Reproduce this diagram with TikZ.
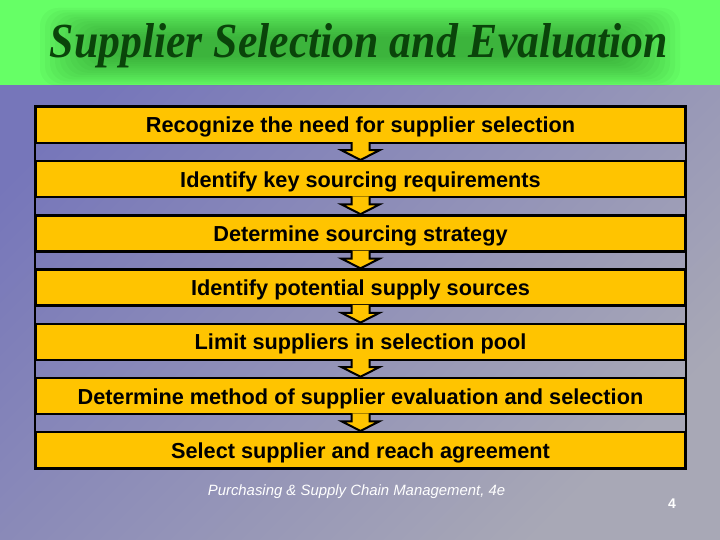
\documentclass[tikz,border=0pt]{standalone}
\usepackage{graphicx}
\usepackage{fontspec}
\setmainfont{Liberation Serif}
\newfontfamily\arialf{Liberation Sans}
\usetikzlibrary{calc}
\definecolor{bandgreen}{HTML}{66FF66}
\definecolor{glowgreen}{HTML}{1E7A1E}
\definecolor{titlegreen}{HTML}{0A440A}
\definecolor{bgpurple}{HTML}{7676BA}
\definecolor{bggray}{HTML}{A8A8B6}
\definecolor{boxyellow}{HTML}{FFC400}
\begin{document}
\begin{tikzpicture}[x=1pt,y=-1pt,
  stepbox/.style={draw=black, line width=2.5pt, fill=boxyellow, minimum width=649pt,
    minimum height=36pt, inner sep=0pt, text height=20pt, text depth=4pt,
    font=\arialf\bfseries\fontsize{21.7}{24}\selectfont},
  flowarrow/.style={draw=black, line width=2pt, fill=boxyellow, line join=miter},
  frameline/.style={draw=black, line width=2pt}]
\useasboundingbox (0,0) rectangle (720,540);
% background
\shade[top color=bgpurple, bottom color=bggray, shading angle=45] (0,0) rectangle (720,540);
\fill[bandgreen] (0,0) rectangle (720,85);
\foreach \i in {0,...,13}
  \fill[glowgreen, opacity=0.05, rounded corners=18pt] (40+5*\i,8+2.2*\i) rectangle (680-5*\i,86-2.2*\i);
% title
\node[text=titlegreen, inner sep=0pt, anchor=base] (title) at (359,58)
  {\resizebox{618pt}{34pt}{\bfseries\itshape Supplier Selection and Evaluation}};
% boxes
\node[stepbox] (b1) at (360.5,125.0) {Recognize the need for supplier selection};
\node[stepbox] (b2) at (360.5,179.2) {Identify key sourcing requirements};
\node[stepbox] (b3) at (360.5,233.4) {Determine sourcing strategy};
\node[stepbox] (b4) at (360.5,287.6) {Identify potential supply sources};
\node[stepbox] (b5) at (360.5,341.8) {Limit suppliers in selection pool};
\node[stepbox] (b6) at (360.5,396.0) {Determine method of supplier evaluation and selection};
\node[stepbox] (b7) at (360.5,450.2) {Select supplier and reach agreement};
\draw[frameline] (b1.north west) rectangle (b7.south east);
% arrows
\foreach \a/\b in {b1/b2,b2/b3,b3/b4,b4/b5,b5/b6,b6/b7}
  \filldraw[flowarrow] ($(\a.south)+(-9,-2)$) -- ($(\a.south)+(-9,6)$) -- ($(\a.south)+(-19,6)$)
    -- (\b.north) -- ($(\a.south)+(19,6)$) -- ($(\a.south)+(9,6)$) -- ($(\a.south)+(9,-2)$);
% footer
\node[font=\arialf\itshape\fontsize{14.9}{17}\selectfont, text=white] (foot) at (356.5,492)
  {Purchasing \& Supply Chain Management, 4e};
\node[font=\arialf\bfseries\fontsize{14}{16}\selectfont, text=white] (pg) at (672,504) {4};
\end{tikzpicture}
\end{document}
